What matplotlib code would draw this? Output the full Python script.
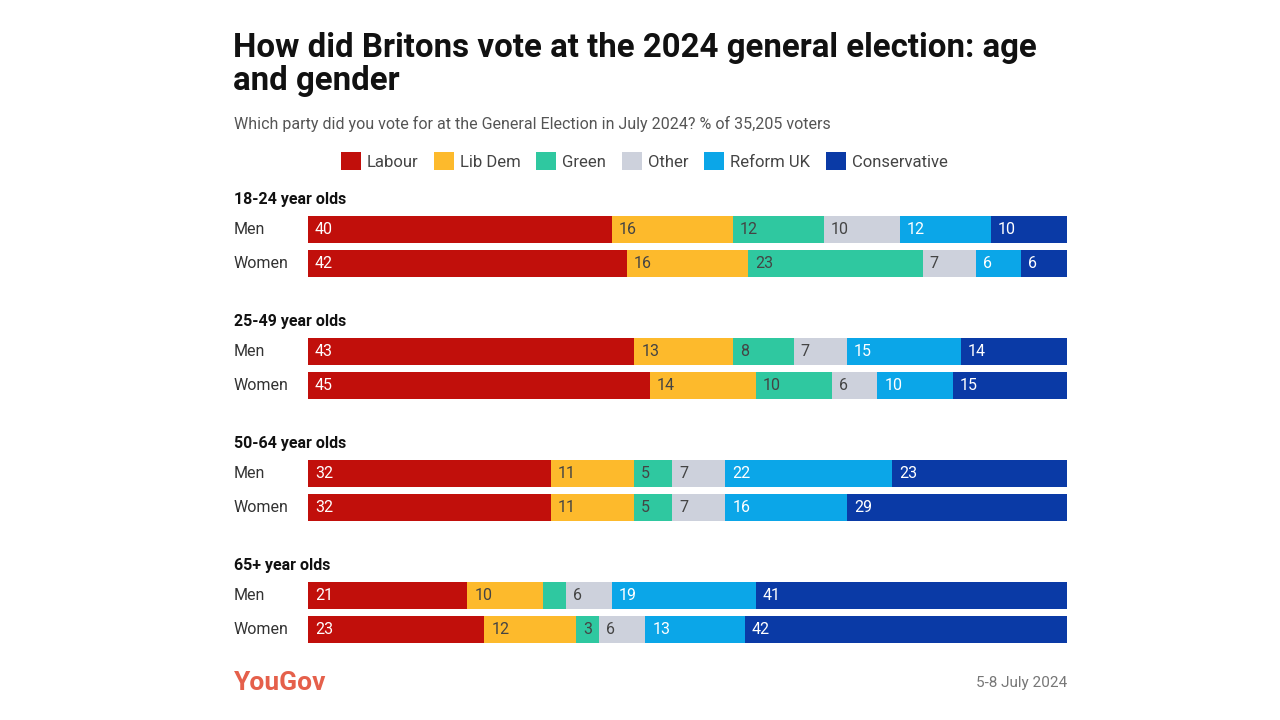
import matplotlib
matplotlib.use("Agg")
import matplotlib.pyplot as plt
from matplotlib.patches import Patch
from matplotlib.transforms import blended_transform_factory
import numpy as np

plt.rcParams['font.family'] = ['Roboto', 'DejaVu Sans']

parties = ["Labour", "Lib Dem", "Green", "Other", "Reform UK", "Conservative"]
colors = ["#C10F0B", "#FDBA2C", "#2FC8A0", "#CDD1DC", "#0BA6E8", "#0A3AA6"]
text_colors = ["white", "#444444", "#444444", "#444444", "white", "white"]

groups = ["18-24 year olds", "25-49 year olds", "50-64 year olds", "65+ year olds"]
genders = ["Men", "Women"]

men_18_24 = [40, 16, 12, 10, 12, 10]
women_18_24 = [42, 16, 23, 7, 6, 6]
men_25_49 = [43, 13, 8, 7, 15, 14]
women_25_49 = [45, 14, 10, 6, 10, 15]
men_50_64 = [32, 11, 5, 7, 22, 23]
women_50_64 = [32, 11, 5, 7, 16, 29]
men_65 = [21, 10, 3, 6, 19, 41]
women_65 = [23, 12, 3, 6, 13, 42]
# label hidden for the small green segment of 65+ men
hidden = {(3, 0, 2)}

title_lines = ["How did Britons vote at the 2024 general election: age", "and gender"]
subtitle = "Which party did you vote for at the General Election in July 2024? % of 35,205 voters"

data = [[men_18_24, women_18_24], [men_25_49, women_25_49],
        [men_50_64, women_50_64], [men_65, women_65]]

W, H = 1280, 720
fig = plt.figure(figsize=(12.8, 7.2), dpi=100)
fig.patch.set_facecolor("white")

def fx(px):
    return px / W

def fy(py):
    return 1 - py / H

# Title & subtitle
for i, line in enumerate(title_lines):
    fig.text(fx(233), fy(57 + i * 33), line, fontsize=23.8, fontweight="bold",
             color="#111111", va="baseline", ha="left")
fig.text(fx(234), fy(124), subtitle, fontsize=11.5, color="#555555", va="center", ha="left")

# Legend
handles = [Patch(facecolor=c, edgecolor="none", label=p) for p, c in zip(parties, colors)]
fig.legend(handles=handles, loc="center", bbox_to_anchor=(fx(644), fy(161)), ncol=6,
           frameon=False, fontsize=12, handlelength=1.2, handleheight=1.2,
           handletextpad=0.35, columnspacing=0.95, labelcolor="#444444")

# Bars axes
ax_top, ax_bot = 180, 650
ax = fig.add_axes([fx(308), fy(ax_bot), fx(1067) - fx(308), (ax_bot - ax_top) / H])
ax.set_xlim(0, 100)
ax.set_ylim(ax_bot, ax_top)
ax.axis("off")

group_step, row_step, first = 122, 33.5, 229.5
bar_h = 27
trans = blended_transform_factory(fig.transFigure, ax.transData)

for g, gname in enumerate(groups):
    base = first + g * group_step
    ax.text(fx(234), base - 30, gname, transform=trans, fontsize=11.5, fontweight="bold",
            color="#111111", va="center", ha="left")
    for r, gender in enumerate(genders):
        y = base + r * row_step
        vals = np.array(data[g][r], dtype=float)
        scaled = vals / vals.sum() * 100
        lefts = np.concatenate([[0], np.cumsum(scaled)[:-1]])
        ax.barh(y, scaled, left=lefts, height=bar_h, color=colors, edgecolor="none")
        ax.text(fx(234), y, gender, transform=trans, fontsize=11.5, color="#333333",
                va="center", ha="left")
        for k in range(len(parties)):
            if (g, r, k) in hidden:
                continue
            ax.annotate(f"{int(vals[k])}", (lefts[k], y), xytext=(5, 0),
                        textcoords="offset points", fontsize=11.5,
                        color=text_colors[k], va="center", ha="left")

# Footer
fig.text(fx(234), fy(683), "YouGov", fontsize=19, fontweight="bold", color="#E5604B",
         va="center", ha="left")
fig.text(fx(1067), fy(683), "5-8 July 2024", fontsize=11, color="#777777",
         va="center", ha="right")

fig.savefig("out.png", dpi=100, facecolor="white")
